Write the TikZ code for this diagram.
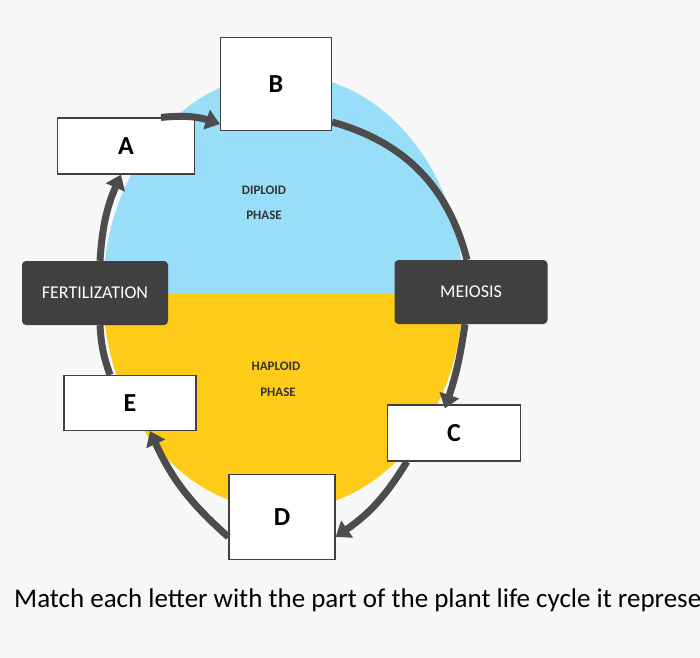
\documentclass[tikz,border=0pt]{standalone}
\usepackage{fontspec}
\setmainfont{Carlito}
\usetikzlibrary{arrows.meta}
\begin{document}
\begin{tikzpicture}[x=1pt,y=-1pt,
 box/.style={draw=black!75,line width=1.2pt,fill=white,minimum width=#1,inner sep=0pt,font=\fontsize{26}{26}\selectfont\bfseries},
 dark/.style={fill=black!75,rounded corners=4pt,text=white,minimum width=#1,minimum height=64pt,font=\fontsize{18}{18}\selectfont},
 cyc/.style={draw=black!70,line width=7pt,-{Triangle[length=14pt,width=20pt]}},
 ph/.style={font=\fontsize{13}{13}\selectfont\bfseries,text=black!80}]
\useasboundingbox (0,0) rectangle (700,657);
\clip (0,0) rectangle (700,657);
\fill[black!3] (0,0) rectangle (700,657);
\begin{scope}
\clip (283,292) ellipse [x radius=180, y radius=218];
\fill[cyan!40!white] (80,60) rectangle (490,294);
\fill[orange!45!yellow!90!white] (80,294) rectangle (490,520);
\end{scope}
\node[ph] (dp1) at (264,190) {DIPLOID};
\node[ph] (dp2) at (264,215) {PHASE};
\node[ph] (hp1) at (276,366) {HAPLOID};
\node[ph] (hp2) at (278,392) {PHASE};
\node[box=111pt,minimum height=93pt] (B) at (276,84) {B};
\node[box=137pt,minimum height=56pt] (A) at (126,146) {A};
\node[dark=146pt] (F) at (95,293) {FERTILIZATION};
\node[dark=153pt] (M) at (471,292) {MEIOSIS};
\node[box=132pt,minimum height=55pt] (E) at (130,403) {E};
\node[box=133pt,minimum height=56pt] (C) at (454,433) {C};
\node[box=106pt,minimum height=85pt] (D) at (282,517) {D};
\draw[cyc] ([xshift=35pt]A.north) to[bend left=12] ([yshift=-40pt]B.west);
\draw[cyc,-] ([yshift=-38pt]B.east) to[bend left=30] ([xshift=-4pt]M.north);
\draw[cyc] ([xshift=-6pt]M.south) to[bend left=5] ([xshift=58pt,yshift=-4pt]C.north west);
\draw[cyc] ([xshift=20pt]C.south west) to[bend left=12] ([yshift=-20pt]D.east);
\draw[cyc] ([yshift=-20pt]D.west) to[bend left=12] ([xshift=20pt]E.south);
\draw[cyc,-] ([xshift=-20pt]E.north) to[bend left=8] ([xshift=5pt]F.south);
\draw[cyc] ([xshift=5pt]F.north) to[bend left=10] ([xshift=-5pt]A.south);
\node[anchor=west,font=\fontsize{27}{27}\selectfont,inner sep=0pt] (q) at (14,600) {Match each letter with the part of the plant life cycle it represents};
\end{tikzpicture}
\end{document}
